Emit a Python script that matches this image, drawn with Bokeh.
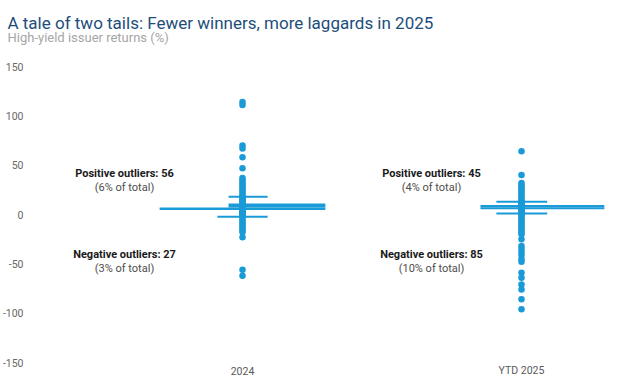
from bokeh.plotting import figure
from bokeh.models import Range1d
from bokeh.core.properties import value
from bokeh.embed import file_html
from bokeh.resources import INLINE

# ---------------- data ----------------
categories = ["2024", "YTD 2025"]

# all issuer returns drawn as dots (%)
returns_2024 = [114, 111, 70, 67, 58, 47,
                37, 35, 33, 31, 29, 27, 25, 23, 21, 19,
                18, 17, 16, 15, 14, 13, 12, 11, 10, 9, 8, 7, 6, 5, 4, 3, 2, 1, 0, -1, -2,
                -4, -6, -8, -10, -12, -14, -16, -18, -23, -56, -62]
returns_2025 = [64, 40, 32, 30, 28, 26, 24, 22, 20, 18, 16, 14,
                13, 12, 11, 10, 9, 8, 7, 6, 5, 4, 3, 2, 1,
                0, -2, -4, -6, -8, -10, -12, -14, -16, -18, -20, -25, -32, -35, -38, -41,
                -45, -48, -59, -64, -71, -76, -86, -96]

q1 = [4.6, 5.2]
median = [7.2, 7.4]
q3 = [11.2, 9.6]
whisker_hi = [18, 13]
whisker_lo = [-2.2, 1.1]

pos_outliers = [56, 45]
pos_share = ["6%", "4%"]
neg_outliers = [27, 85]
neg_share = ["3%", "10%"]

y_ticks = [-150, -100, -50, 0, 50, 100, 150]

# ---------------- style / layout ----------------
BLUE = "#1a9ad6"
FONT = value("Roboto")
W, H = 640, 380

# pixel geometry of the plotting area (category centres, y scale)
CAT0_PX, CAT1_PX = 242, 521
Y150_PX, YM150_PX = 66, 362
X0 = (0 - CAT0_PX) / (CAT1_PX - CAT0_PX)
X1 = (W - CAT0_PX) / (CAT1_PX - CAT0_PX)
K = (YM150_PX - Y150_PX) / 300.0
Y1 = 150 + Y150_PX / K
Y0 = -150 - (H - YM150_PX) / K

def sx(px):
    return X0 + px / W * (X1 - X0)
def sy(py):
    return Y1 - py / H * (Y1 - Y0)

# box-shape horizontal extents (offsets from category centre)
lower_box_x = [(-0.297, 0.297), (-0.147, 0.297)]
upper_box_x = [(-0.05, 0.297), (-0.147, 0.297)]
hi_cap_x = [(-0.05, 0.09), (-0.09, 0.092)]
lo_cap_x = [(-0.09, 0.09), (-0.09, 0.092)]

p = figure(width=W, height=H, output_backend="svg", toolbar_location=None,
           x_range=Range1d(X0, X1), y_range=Range1d(Y0, Y1),
           min_border_left=0, min_border_right=0, min_border_top=0, min_border_bottom=0)
p.outline_line_color = None
p.grid.visible = False
p.axis.visible = False
p.background_fill_color = "white"
p.border_fill_color = "white"

# y tick labels
p.text(x=[sx(23)] * len(y_ticks), y=y_ticks, text=[str(t) for t in y_ticks],
       text_font=FONT, text_font_size="10.5px", text_color="#666666",
       text_align="right", text_baseline="middle")
# category labels
p.text(x=[0, 1], y=[sy(370)] * 2, text=categories,
       text_font=FONT, text_font_size="10.5px", text_color="#595959",
       text_align="center", text_baseline="middle")

for i in range(2):
    ys = returns_2024 if i == 0 else returns_2025
    xs = [i] * len(ys)
    p.quad(left=i + lower_box_x[i][0], right=i + lower_box_x[i][1],
           bottom=q1[i], top=median[i], fill_color=BLUE, line_color=None)
    p.quad(left=i + upper_box_x[i][0], right=i + upper_box_x[i][1],
           bottom=median[i], top=q3[i], fill_color=BLUE, line_color=None)
    p.segment(x0=i + hi_cap_x[i][0], x1=i + hi_cap_x[i][1], y0=whisker_hi[i], y1=whisker_hi[i],
              line_color=BLUE, line_width=2)
    p.segment(x0=i + lo_cap_x[i][0], x1=i + lo_cap_x[i][1], y0=whisker_lo[i], y1=whisker_lo[i],
              line_color=BLUE, line_width=2)
    p.scatter(x=xs, y=ys, size=6.5, fill_color=BLUE, line_color=None)

# outlier annotations
ann_x = [sx(124), sx(431)]
p.text(x=ann_x, y=[sy(172.5)] * 2, text=[f"Positive outliers: {n}" for n in pos_outliers],
       text_font=FONT, text_font_style="bold", text_font_size="11px", text_color="#1a1a1a",
       text_align="center", text_baseline="middle")
p.text(x=ann_x, y=[sy(187)] * 2, text=[f"({s} of total)" for s in pos_share],
       text_font=FONT, text_font_size="11px", text_color="#4d4d4d",
       text_align="center", text_baseline="middle")
p.text(x=ann_x, y=[sy(254)] * 2, text=[f"Negative outliers: {n}" for n in neg_outliers],
       text_font=FONT, text_font_style="bold", text_font_size="11px", text_color="#1a1a1a",
       text_align="center", text_baseline="middle")
p.text(x=ann_x, y=[sy(268)] * 2, text=[f"({s} of total)" for s in neg_share],
       text_font=FONT, text_font_size="11px", text_color="#4d4d4d",
       text_align="center", text_baseline="middle")

# title & subtitle
p.text(x=[sx(7)], y=[sy(22)], text=["A tale of two tails: Fewer winners, more laggards in 2025"],
       text_font=FONT, text_font_size="17px", text_color="#1d4e7a",
       text_align="left", text_baseline="alphabetic")
p.text(x=[sx(7)], y=[sy(36.5)], text=["High-yield issuer returns (%)"],
       text_font=FONT, text_font_size="13px", text_color="#a6a6a6",
       text_align="left", text_baseline="alphabetic")

open("out.html", "w").write(file_html(p, INLINE))
